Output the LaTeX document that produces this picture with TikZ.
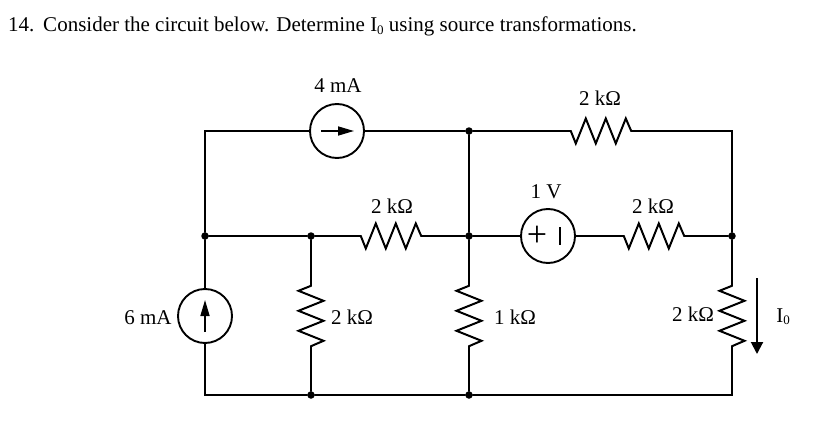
\documentclass[tikz,border=0pt]{standalone}
\usepackage{fontspec}
\setmainfont{Liberation Serif}
\usetikzlibrary{arrows.meta}
\newcommand{\subzero}{\raisebox{-0.12em}{\fontsize{13}{13}\selectfont 0}}
\tikzset{
  x=1pt,y=-1pt,
  wire/.style={line width=2pt,line join=miter,line cap=round},
  src/.style={circle,draw,line width=1.9pt,minimum size=54pt,inner sep=0pt,fill=white},
  dot/.style={circle,fill=black,minimum size=7.5pt,inner sep=0pt},
  reshbox/.style={minimum width=60pt,minimum height=25pt,inner sep=0pt},
  resvbox/.style={minimum width=25pt,minimum height=60pt,inner sep=0pt},
  lab/.style={anchor=base,inner sep=0pt,font=\fontsize{21}{25}\selectfont},
  small arrow/.style={line width=1.6pt,-{Triangle[length=16pt,width=9pt]}},
  big arrow/.style={line width=2pt,-{Triangle[length=12pt,width=12pt]}}
}
\newcommand{\zigh}[1]{\draw[wire] (#1.west) -- ++(5,12.5) -- ++(10,-25) -- ++(10,25) -- ++(10,-25) -- ++(10,25) -- ++(10,-25) -- (#1.east);}
\newcommand{\zigv}[1]{\draw[wire] (#1.north) -- ++(-12.5,5) -- ++(25,10) -- ++(-25,10) -- ++(25,10) -- ++(-25,10) -- ++(25,10) -- (#1.south);}
\begin{document}
\begin{tikzpicture}
\useasboundingbox (0,0) rectangle (837,425);
% corners
\coordinate (tl) at (205,131);
\coordinate (tr) at (732,131);
\coordinate (bl) at (205,395);
\coordinate (br) at (732,395);
% junctions
\node[dot] (jt) at (469,131) {};
\node[dot] (jl) at (205,236) {};
\node[dot] (ja) at (311,236) {};
\node[dot] (jm) at (469,236) {};
\node[dot] (jr) at (732,236) {};
\node[dot] (jb1) at (311,395) {};
\node[dot] (jb2) at (469,395) {};
% sources
\node[src] (s4) at (337,131) {};
\node[src] (s6) at (205,316) {};
\node[src] (v1) at (548,236) {};
% resistors
\node[reshbox] (r1) at (601,131) {};
\node[reshbox] (r2) at (391,236) {};
\node[reshbox] (r3) at (654,236) {};
\node[resvbox] (r4) at (311,316) {};
\node[resvbox] (r5) at (469,316) {};
\node[resvbox] (r6) at (732,316) {};
\zigh{r1}\zigh{r2}\zigh{r3}
\zigv{r4}\zigv{r5}\zigv{r6}
% wires
\draw[wire] (s4.west) -- (tl) -- (jl) -- (s6.north);
\draw[wire] (s4.east) -- (jt) -- (r1.west);
\draw[wire] (r1.east) -- (tr) -- (jr) -- (r6.north);
\draw[wire] (jl) -- (ja) -- (r2.west);
\draw[wire] (r2.east) -- (jm) -- (v1.west);
\draw[wire] (v1.east) -- (r3.west);
\draw[wire] (r3.east) -- (jr);
\draw[wire] (jt) -- (jm) -- (r5.north);
\draw[wire] (ja) -- (r4.north);
\draw[wire] (s6.south) -- (bl) -- (jb1) -- (jb2) -- (br) -- (r6.south);
\draw[wire] (r4.south) -- (jb1);
\draw[wire] (r5.south) -- (jb2);
% source symbols
\coordinate (a4s) at (321,131);
\coordinate (a4e) at (354,131);
\draw[small arrow] (a4s) -- (a4e);
\coordinate (a6s) at (205,332);
\coordinate (a6e) at (205,300);
\draw[small arrow] (a6s) -- (a6e);
\node[inner sep=0pt,anchor=center] (plus) at (537,236) {\fontsize{36}{36}\selectfont +};
\coordinate (mt) at (560,227);
\coordinate (mb) at (560,245);
\draw[line width=1.8pt] (mt) -- (mb);
% current arrow
\coordinate (ios) at (757,278);
\coordinate (ioe) at (757,354);
\draw[big arrow] (ios) -- (ioe);
% labels
\node[lab] (l4) at (338,93) {4 mA};
\node[lab] (lr1) at (600,106) {2 kΩ};
\node[lab] (lr2) at (392,213) {2 kΩ};
\node[lab] (lv) at (546,198) {1 V};
\node[lab] (lr3) at (653,213) {2 kΩ};
\node[lab] (l6) at (148,324) {6 mA};
\node[lab] (lr4) at (352,324) {2 kΩ};
\node[lab] (lr5) at (515,324) {1 kΩ};
\node[lab] (lr6) at (693,321) {2 kΩ};
\node[lab] (lio) at (783,322) {I\subzero};
\node[lab,anchor=base west] (title) at (8,32) {14.\hspace{0.42em}Consider the circuit below. Determine I\subzero\ using source transformations.};
\end{tikzpicture}
\end{document}
